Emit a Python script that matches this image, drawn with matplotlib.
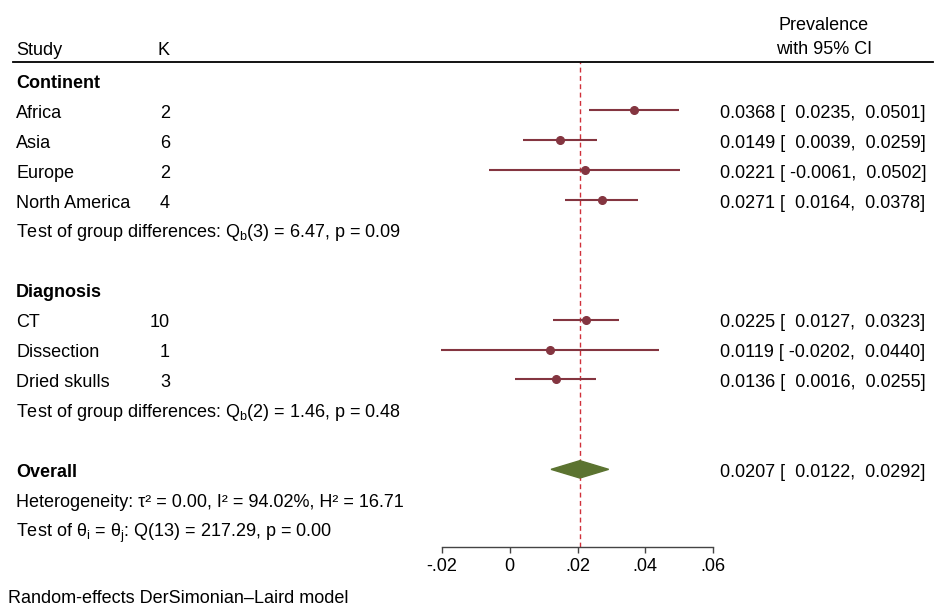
import numpy as np
import matplotlib
matplotlib.use('Agg')
import matplotlib.pyplot as plt
from matplotlib.transforms import blended_transform_factory
from matplotlib.lines import Line2D

plt.rcParams['font.family'] = ['Liberation Sans', 'DejaVu Sans']
plt.rcParams['mathtext.fontset'] = 'custom'
plt.rcParams['mathtext.rm'] = 'Liberation Sans'
plt.rcParams['mathtext.it'] = 'Liberation Sans:italic'
plt.rcParams['mathtext.bf'] = 'Liberation Sans:bold'

# datos del forest plot
cont_names = ['Africa', 'Asia', 'Europe', 'North America']
cont_k = [2, 6, 2, 4]
cont_est = [0.0368, 0.0149, 0.0221, 0.0271]
cont_lo = [0.0235, 0.0039, -0.0061, 0.0164]
cont_hi = [0.0501, 0.0259, 0.0502, 0.0378]

diag_names = ['CT', 'Dissection', 'Dried skulls']
diag_k = [10, 1, 3]
diag_est = [0.0225, 0.0119, 0.0136]
diag_lo = [0.0127, -0.0202, 0.0016]
diag_hi = [0.0323, 0.0440, 0.0255]

overall_est = 0.0207
overall_lo = 0.0122
overall_hi = 0.0292

xticks = [-0.02, 0, 0.02, 0.04, 0.06]
xticklabels = ['-.02', '0', '.02', '.04', '.06']

W, H = 947, 611
FS = 13
linecol = '#843540'
refcol = '#d0303a'
diacol = '#5b7330'

fig = plt.figure(figsize=(W / 100, H / 100), dpi=100)
# eje de la zona del gráfico (pixeles 442..713 en x, 62..547 en y)
top_px, bot_px = 62, 547
row0_px, step = 80, 29.95
ax = fig.add_axes([442 / W, (H - bot_px) / H, (713 - 442) / W, (bot_px - top_px) / H])
ax.set_xlim(-0.02, 0.06)
ax.set_ylim((bot_px - row0_px) / step, (top_px - row0_px) / step)

for s in ['top', 'left', 'right']:
    ax.spines[s].set_visible(False)
ax.spines['bottom'].set_color('#444444')
ax.spines['bottom'].set_linewidth(1.0)
ax.set_yticks([])
ax.set_xticks(xticks)
ax.set_xticklabels(xticklabels, fontsize=FS)
ax.tick_params(axis='x', direction='out', length=4, width=1.0, color='#444444', pad=4)

tr = blended_transform_factory(fig.transFigure, ax.transData)
base_off = 7.7 / step  # de centro de fila a linea base del texto

def txt(xpx, row, s, **kw):
    ax.text(xpx / W, row + base_off, s, transform=tr, fontsize=FS, va='baseline', clip_on=False, **kw)

def ci_str(e, l, h):
    return f'{e:.4f} [{l:8.4f},{h:8.4f}]'

# cabecera
txt(16, (55 - 7.7 - row0_px) / step, 'Study')
txt(157, (55 - 7.7 - row0_px) / step, 'K')
txt(824, (29.5 - 7.7 - row0_px) / step, 'Prevalence', ha='center')
txt(824, (54.5 - 7.7 - row0_px) / step, 'with 95% CI', ha='center')
fig.add_artist(Line2D([13 / W, 933 / W], [1 - top_px / H, 1 - top_px / H], color='black', lw=1.3))

# linea de referencia
ax.axvline(overall_est, color=refcol, ls=(0, (3.5, 2.5)), lw=1.0, zorder=1)

row = 0
txt(16, row, 'Continent', fontweight='bold')
for i in range(len(cont_names)):
    row += 1
    txt(16, row, cont_names[i])
    txt(170, row, str(cont_k[i]), ha='right')
    ax.plot([cont_lo[i], cont_hi[i]], [row, row], color=linecol, lw=1.5, solid_capstyle='butt', zorder=2)
    ax.plot(cont_est[i], row, 'o', color=linecol, ms=5.5, zorder=3)
    txt(720, row, ci_str(cont_est[i], cont_lo[i], cont_hi[i]))
row += 1
txt(16, row, r'Test of group differences: Q$_\mathrm{b}$(3) = 6.47, p = 0.09')

row += 2
txt(16, row, 'Diagnosis', fontweight='bold')
for i in range(len(diag_names)):
    row += 1
    txt(16, row, diag_names[i])
    txt(170, row, str(diag_k[i]), ha='right')
    ax.plot([diag_lo[i], diag_hi[i]], [row, row], color=linecol, lw=1.5, solid_capstyle='butt', zorder=2, clip_on=False)
    ax.plot(diag_est[i], row, 'o', color=linecol, ms=5.5, zorder=3)
    txt(720, row, ci_str(diag_est[i], diag_lo[i], diag_hi[i]))
row += 1
txt(16, row, r'Test of group differences: Q$_\mathrm{b}$(2) = 1.46, p = 0.48')

row += 2
txt(16, row, 'Overall', fontweight='bold')
ax.fill([overall_lo, overall_est, overall_hi, overall_est],
        [row, row - 0.29, row, row + 0.29], color=diacol, zorder=3)
txt(720, row, ci_str(overall_est, overall_lo, overall_hi))
row += 1
txt(16, row, 'Heterogeneity: τ² = 0.00, I² = 94.02%, H² = 16.71')
row += 1
txt(16, row, r'Test of θ$_\mathrm{i}$ = θ$_\mathrm{j}$: Q(13) = 217.29, p = 0.00')

fig.text(8 / W, 1 - 603 / H, 'Random-effects DerSimonian–Laird model', fontsize=FS, va='baseline')

fig.savefig('out.png', dpi=100)
